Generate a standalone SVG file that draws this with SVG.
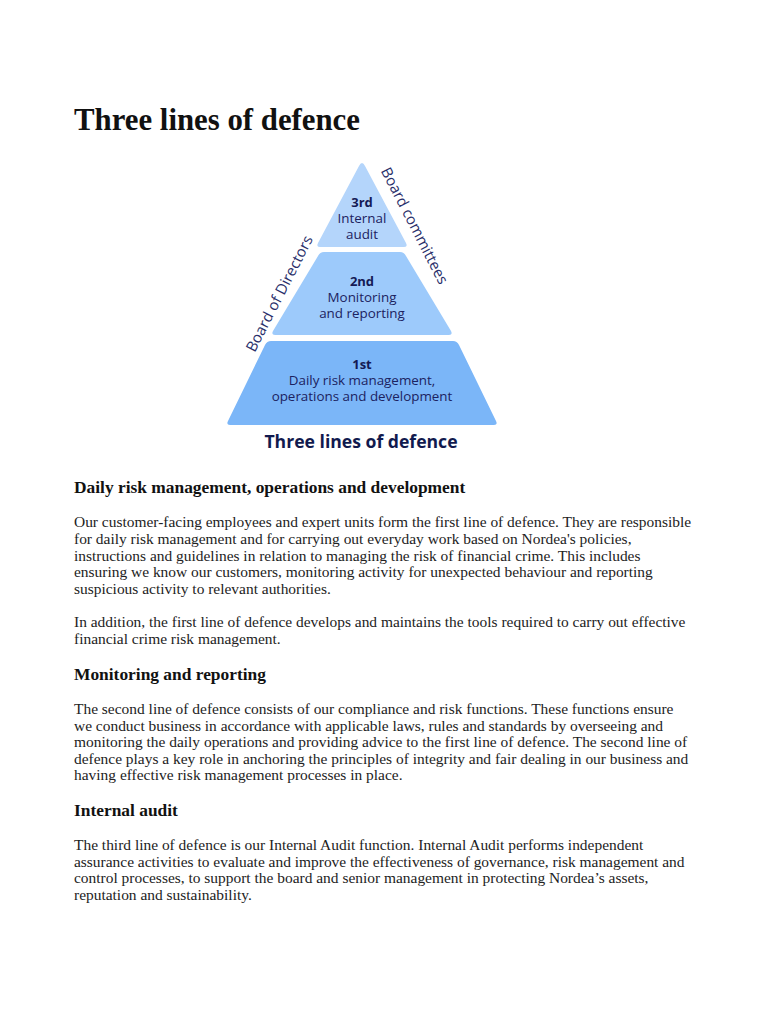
<svg xmlns="http://www.w3.org/2000/svg" width="768" height="1024" viewBox="0 0 768 1024">
<style>
.h1{font-family:"Liberation Serif",serif;font-weight:bold;font-size:30.8px;fill:#111}
.h3{font-family:"Liberation Serif",serif;font-weight:bold;font-size:17.4px;fill:#111}
.p{font-family:"Liberation Serif",serif;font-size:15.45px;fill:#222}
.pl{font-family:"Open Sans",sans-serif;font-size:13.4px;fill:#1c2260;text-anchor:middle}
.pb{font-family:"Open Sans",sans-serif;font-size:13px;font-weight:bold;fill:#141a55;text-anchor:middle}
.side{font-family:"Open Sans",sans-serif;font-size:15px;fill:#2a2f6a;text-anchor:middle}
</style>
<rect width="768" height="1024" fill="#fff"/>
<text class="h1" x="74" y="130">Three lines of defence</text>
<g id="pyramid">
<g id="node-3rd">
<path d="M359,166 Q362,160 365,166 L406,243 Q408,247 404,247 L320,247 Q316,247 318,243 Z" fill="#b4d5fb"/>
<text class="pb" x="362" y="207">3rd</text>
<text class="pl" x="362" y="223">Internal</text>
<text class="pl" x="362" y="239">audit</text>
</g>
<g id="node-2nd">
<path d="M324,252 L400,252 Q404,252 406,256 L451,331 Q453,335 449,335 L275,335 Q271,335 273,331 L318,256 Q320,252 324,252 Z" fill="#9dcafb"/>
<text class="pb" x="362" y="286">2nd</text>
<text class="pl" x="362" y="302">Monitoring</text>
<text class="pl" x="362" y="318">and reporting</text>
</g>
<g id="node-1st">
<path d="M271,341 L453,341 Q457,341 459,345 L496,421 Q498,425 494,425 L230,425 Q226,425 228,421 L265,345 Q267,341 271,341 Z" fill="#7bb6f8"/>
<text class="pb" x="362" y="369">1st</text>
<text class="pl" x="362" y="385">Daily risk management,</text>
<text class="pl" x="362" y="401">operations and development</text>
</g>
<text class="side" transform="translate(284,296) rotate(-62.8)">Board of Directors</text>
<text class="side" transform="translate(410,228) rotate(62.8)">Board committees</text>
<text x="361" y="448" font-family="'Open Sans',sans-serif" font-weight="bold" font-size="17.6" fill="#111a4e" text-anchor="middle">Three lines of defence</text>
</g>
<text class="h3" x="74" y="493">Daily risk management, operations and development</text>
<text class="p" x="74" y="527">Our customer-facing employees and expert units form the first line of defence. They are responsible</text>
<text class="p" x="74" y="544">for daily risk management and for carrying out everyday work based on Nordea's policies,</text>
<text class="p" x="74" y="560.5">instructions and guidelines in relation to managing the risk of financial crime. This includes</text>
<text class="p" x="74" y="577">ensuring we know our customers, monitoring activity for unexpected behaviour and reporting</text>
<text class="p" x="74" y="593.5">suspicious activity to relevant authorities.</text>
<text class="p" x="74" y="627">In addition, the first line of defence develops and maintains the tools required to carry out effective</text>
<text class="p" x="74" y="644">financial crime risk management.</text>
<text class="h3" x="74" y="680">Monitoring and reporting</text>
<text class="p" x="74" y="714">The second line of defence consists of our compliance and risk functions. These functions ensure</text>
<text class="p" x="74" y="730.5">we conduct business in accordance with applicable laws, rules and standards by overseeing and</text>
<text class="p" x="74" y="747">monitoring the daily operations and providing advice to the first line of defence. The second line of</text>
<text class="p" x="74" y="763.5">defence plays a key role in anchoring the principles of integrity and fair dealing in our business and</text>
<text class="p" x="74" y="780">having effective risk management processes in place.</text>
<text class="h3" x="74" y="816">Internal audit</text>
<text class="p" x="74" y="850">The third line of defence is our Internal Audit function. Internal Audit performs independent</text>
<text class="p" x="74" y="866.5">assurance activities to evaluate and improve the effectiveness of governance, risk management and</text>
<text class="p" x="74" y="883">control processes, to support the board and senior management in protecting Nordea’s assets,</text>
<text class="p" x="74" y="899.5">reputation and sustainability.</text>
</svg>
